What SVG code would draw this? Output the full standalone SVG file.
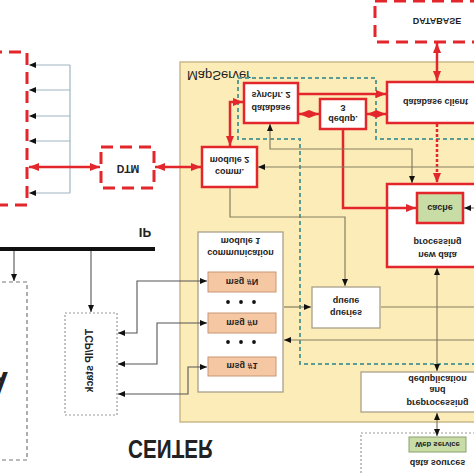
<svg xmlns="http://www.w3.org/2000/svg" width="474" height="474" viewBox="0 0 474 474">
<defs>
<style>
.t{font-family:"Liberation Sans",Arial,sans-serif;font-weight:bold;font-size:9px;fill:#222;text-anchor:middle}
.rb{fill:#fff;stroke:#e2262b;stroke-width:2.5}
.rd{fill:none;stroke:#e2262b;stroke-width:3;stroke-dasharray:12 7}
.ra{fill:none;stroke:#e2262b;stroke-width:2.5}
.oa{fill:none;stroke:#857e62;stroke-width:1.2}
.ga{fill:none;stroke:#555;stroke-width:1.1}
.ba{fill:none;stroke:#9db5c2;stroke-width:1.2}
.msg{fill:#f5c7a2;stroke:#c99572;stroke-width:1}
.gb{fill:#fff;stroke:#a8a08a;stroke-width:1.3}
</style>
<marker id="rh" viewBox="0 0 10 8" refX="10" refY="4" markerWidth="10" markerHeight="8" markerUnits="userSpaceOnUse" orient="auto-start-reverse"><path d="M0,0 L10,4 L0,8 z" fill="#e2262b"/></marker>
<marker id="kh" viewBox="0 0 7 6" refX="7" refY="3" markerWidth="7" markerHeight="6" markerUnits="userSpaceOnUse" orient="auto-start-reverse"><path d="M0,0 L7,3 L0,6 z" fill="#111"/></marker>
</defs>
<rect width="474" height="474" fill="#fff"/>

<g id="mapserver">
<rect x="180" y="62" width="300" height="360" fill="#fcecb8" stroke="#c9b98a" stroke-width="1.5"/>
<text class="t" style="font-weight:normal;font-size:13px;text-anchor:start" transform="matrix(1 0 0 -1 187 71)">MapServer</text>
</g>
<g id="teal-region">
<polygon points="238,78 376,78 376,139 480,139 480,364 300,364 300,139 238,139" fill="none" stroke="#5b9c95" stroke-width="2" stroke-dasharray="4 3"/>
</g>

<g id="left-red-box"><rect x="-10" y="52" width="37" height="153" class="rd"/></g>
<g id="left-gray-box"><rect x="-5" y="282" width="32" height="178" fill="none" stroke="#777" stroke-width="1.2" stroke-dasharray="4 3"/>
<text class="t" style="font-size:32px;text-anchor:middle" transform="matrix(1 0 0 -1 -3 372)">A</text></g>
<g id="dtm"><rect x="101" y="147" width="53" height="41" class="rd"/><text class="t" style="font-size:10.5px" transform="matrix(1 0 0 -1 128 164.5)">DTM</text></g>
<g id="database"><rect x="375" y="1" width="110" height="41" class="rd"/><text class="t" transform="matrix(1 0 0 -1 437 18)">DATABASE</text></g>
<g id="synch"><rect x="244" y="83" width="54" height="40" class="rb"/>
<text class="t" transform="matrix(1 0 0 -1 271 92)">synchr. 2</text>
<text class="t" transform="matrix(1 0 0 -1 271 104.5)">database</text></g>
<g id="dedup"><rect x="320" y="99" width="46" height="30" class="rb"/>
<text class="t" transform="matrix(1 0 0 -1 343 105)">3</text>
<text class="t" transform="matrix(1 0 0 -1 343 115.5)">dedup.</text></g>
<g id="client"><rect x="387" y="82" width="100" height="41" class="rb"/>
<text class="t" transform="matrix(1 0 0 -1 435.5 98.5)">database client</text></g>
<g id="module2"><rect x="202" y="147" width="55" height="40" class="rb"/>
<text class="t" transform="matrix(1 0 0 -1 229.5 157)">module 2</text>
<text class="t" transform="matrix(1 0 0 -1 229.5 168.5)">comm.</text></g>
<g id="newdata"><rect x="387" y="184" width="100" height="83" class="rb"/>
<text class="t" transform="matrix(1 0 0 -1 437.5 239)">processing</text>
<text class="t" transform="matrix(1 0 0 -1 437.5 251.5)">new data</text></g>
<g id="cache"><rect x="417" y="193" width="46" height="30" fill="#c8dca6" stroke="#e2262b" stroke-width="2.5"/>
<text class="t" transform="matrix(1 0 0 -1 440 204.5)">cache</text></g>
<g id="module1"><rect x="198" y="232" width="85" height="160" class="gb"/>
<text class="t" transform="matrix(1 0 0 -1 240.5 238)">module 1</text>
<text class="t" transform="matrix(1 0 0 -1 240.5 250)">communication</text>
<rect x="208" y="272" width="68" height="20" class="msg"/>
<text class="t" transform="matrix(1 0 0 -1 242 278.5)">msg #N</text>
<rect x="208" y="313" width="68" height="20" class="msg"/>
<text class="t" transform="matrix(1 0 0 -1 242 319.5)">msg #n</text>
<rect x="208" y="357" width="68" height="19" class="msg"/>
<text class="t" transform="matrix(1 0 0 -1 242 363)">msg #1</text>
<g fill="#111"><circle cx="228" cy="302" r="1.9"/><circle cx="241" cy="302" r="1.9"/><circle cx="254" cy="302" r="1.9"/>
<circle cx="228" cy="342" r="1.9"/><circle cx="241" cy="342" r="1.9"/><circle cx="254" cy="342" r="1.9"/></g></g>
<g id="queue"><rect x="312" y="287" width="68" height="41" class="gb"/>
<text class="t" transform="matrix(1 0 0 -1 346 297.5)">queue</text>
<text class="t" transform="matrix(1 0 0 -1 346 310)">queries</text></g>
<g id="preproc"><rect x="361" y="372" width="120" height="40" class="gb"/>
<text class="t" transform="matrix(1 0 0 -1 437.5 375.5)">deduplication</text>
<text class="t" transform="matrix(1 0 0 -1 437.5 387)">and</text>
<text class="t" transform="matrix(1 0 0 -1 437.5 400)">preprocessing</text></g>
<g id="datasources"><rect x="361" y="433" width="120" height="50" fill="#fff" stroke="#999" stroke-width="1.2" stroke-dasharray="2 2"/>
<rect x="409" y="437" width="57" height="15" fill="#c8dca6" stroke="#8aa070" stroke-width="1"/>
<text class="t" style="font-size:7.7px" transform="matrix(1 0 0 -1 437.5 441.5)">Web service</text>
<text class="t" transform="matrix(1 0 0 -1 437.5 460)">data sources</text></g>
<g id="tcpip"><rect x="65" y="313" width="52" height="102" fill="none" stroke="#999" stroke-width="1.2" stroke-dasharray="2 2"/>
<text class="t" style="font-size:10.5px" transform="matrix(0 1 1 0 92.5 360.5)">TCP/IP stack</text></g>
<g id="bus"><line x1="0" y1="249" x2="155" y2="249" stroke="#111" stroke-width="4"/>
<text class="t" style="font-size:13px" transform="matrix(1 0 0 -1 145 228)">IP</text></g>
<g id="center-label"><text class="t" style="font-size:26px" textLength="85" lengthAdjust="spacingAndGlyphs" transform="matrix(1 0 0 -1 170.5 440)">CENTER</text></g>

<g id="connectors">
<path class="ba" d="M70,65 V193"/>
<path class="ba" d="M70,65 H29" marker-end="url(#kh)"/>
<path class="ba" d="M70,90 H29" marker-end="url(#kh)"/>
<path class="ba" d="M70,116 H29" marker-end="url(#kh)"/>
<path class="ba" d="M70,141 H29" marker-end="url(#kh)"/>
<path class="ba" d="M70,193 H29" marker-end="url(#kh)"/>
<path class="ra" d="M29,167 H100" marker-start="url(#rh)" marker-end="url(#rh)"/>
<path class="ra" d="M155,167 H201" marker-start="url(#rh)" marker-end="url(#rh)"/>
<path class="ra" d="M437,43 V81" marker-start="url(#rh)" marker-end="url(#rh)"/>
<path class="ra" d="M243,102 H230 V146" marker-start="url(#rh)" marker-end="url(#rh)"/>
<path class="ra" d="M299,114 H319" marker-start="url(#rh)" marker-end="url(#rh)"/>
<path class="ra" d="M367,114 H386" marker-start="url(#rh)" marker-end="url(#rh)"/>
<path class="ra" d="M299,94 H386" marker-end="url(#rh)"/>
<path class="ra" d="M437,124 V183" stroke-dasharray="3 2" marker-end="url(#rh)"/>
<path class="ra" d="M343,130 V208 H416" marker-end="url(#rh)"/>
<path class="oa" d="M270,124 V149 H412 V183" marker-start="url(#kh)" marker-end="url(#kh)"/>
<path class="oa" d="M480,167 H258" marker-end="url(#kh)"/>
<path class="oa" d="M480,208 H464" marker-end="url(#kh)"/>
<path class="oa" d="M230,188 V217 H345 V286" marker-end="url(#kh)"/>
<path class="oa" d="M284,307 H311" marker-end="url(#kh)"/>
<path class="oa" d="M381,307 H480"/>
<path class="oa" d="M480,340 H284" marker-end="url(#kh)"/>
<path class="oa" d="M437,268 V371" marker-start="url(#kh)" marker-end="url(#kh)"/>
<path class="oa" d="M437,413 V436" marker-start="url(#kh)" marker-end="url(#kh)"/>
<path class="ga" d="M118,333 H137 V281 H207" marker-start="url(#kh)" marker-end="url(#kh)"/>
<path class="ga" d="M118,364 H157 V323 H207" marker-start="url(#kh)" marker-end="url(#kh)"/>
<path class="ga" d="M118,394 H188 V367 H207" marker-start="url(#kh)" marker-end="url(#kh)"/>
<path class="ga" d="M91,251 V312" marker-end="url(#kh)"/>
<path class="ga" d="M14,251 V281" marker-end="url(#kh)"/>
</g>
</svg>
